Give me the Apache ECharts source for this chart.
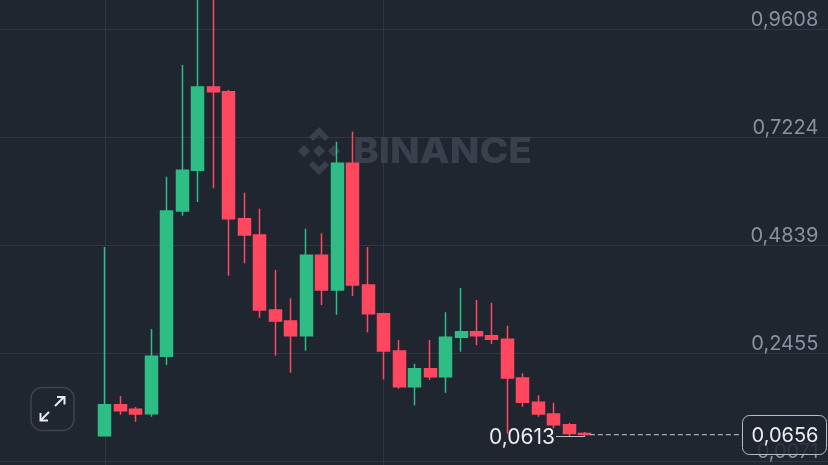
<!DOCTYPE html>
<html>
<head>
<meta charset="utf-8">
<style>
  html, body { margin: 0; padding: 0; background: #1f2630; }
  #main { width: 828px; height: 465px; }
</style>
<script src="https://cdn.jsdelivr.net/npm/echarts@6/dist/echarts.min.js"></script>
</head>
<body>
<div id="main"></div>
<script>
// candles
var opens = [0.0629, 0.1314, 0.1212, 0.1115, 0.2382, 0.5590, 0.6488, 0.8327, 0.8223, 0.5420, 0.5060, 0.3404, 0.3161, 0.2837, 0.4612, 0.3846,
  0.6642, 0.3956, 0.3323, 0.2499, 0.1711, 0.2108, 0.1932, 0.2802, 0.2925, 0.2837, 0.2757, 0.1903, 0.1367, 0.1108, 0.0872, 0.0682];
var closes = [0.1314, 0.1181, 0.1108, 0.2382, 0.5590, 0.6488, 0.8327, 0.8223, 0.5420, 0.5060, 0.3404, 0.3161, 0.2837, 0.4612, 0.3846, 0.6642,
  0.3956, 0.3323, 0.2499, 0.1711, 0.2108, 0.1932, 0.2802, 0.2925, 0.2837, 0.2757, 0.1903, 0.1367, 0.1108, 0.0872, 0.0682, 0.0656];
var lows = [0.0629, 0.1093, 0.0939, 0.1049, 0.2190, 0.5486, 0.5788, 0.6091, 0.4161, 0.4435, 0.3234, 0.2395, 0.2020, 0.2506, 0.3515, 0.3300,
  0.3713, 0.2912, 0.1874, 0.1667, 0.1301, 0.1859, 0.1579, 0.2484, 0.2625, 0.2654, 0.0682, 0.1270, 0.1049, 0.0793, 0.0625, 0.0613];
var highs = [0.4795, 0.1506, 0.1263, 0.2985, 0.6347, 0.8812, 1.0600, 1.0700, 0.8260, 0.5993, 0.5640, 0.4287, 0.3662, 0.5199, 0.5097, 0.7119,
  0.7340, 0.4795, 0.3345, 0.2742, 0.2219, 0.2742, 0.3353, 0.3890, 0.3625, 0.3565, 0.3058, 0.2007, 0.1521, 0.1358, 0.0916, 0.0711];

var yTicks = [0.0071, 0.2455, 0.4839, 0.7224, 0.9608];
var lastPrice = 0.0656;
var lowPrice = 0.0613;
var brand = 'BINANCE';

// empty slots left and right of the candles, the axis runs past the window
var padLeft = 7;
var padRight = 16;
var slots = [];
for (var s = 0; s < padLeft + opens.length + padRight; s++) slots.push(String(s));

var candles = opens.map(function (o, i) {
  return [i + padLeft, o, closes[i], lows[i], highs[i]];
});

function fmt(v) {
  return v.toFixed(4).replace('.', ',');
}

var font = 'Inter';
var chart = echarts.init(document.getElementById('main'));

chart.setOption({
  animation: false,
  backgroundColor: '#1f2630',
  grid: { left: -11.1, width: 851.4, top: 0, bottom: 0, outerBoundsMode: 'none' },
  xAxis: {
    type: 'category',
    data: slots,
    axisLine: { show: false },
    axisTick: { show: false },
    axisLabel: { show: false },
    splitLine: {
      show: true,
      alignWithLabel: true,
      interval: function (i) { return i === 7 || i === 25; },
      lineStyle: { color: '#2f3641', width: 1 }
    }
  },
  yAxis: {
    type: 'value',
    position: 'right',
    min: -0.0016,
    max: 1.0248,
    axisLine: { show: false },
    axisTick: { show: false, customValues: yTicks },
    axisLabel: {
      inside: true,
      customValues: yTicks,
      margin: 22,
      color: '#8a919e',
      fontFamily: font,
      fontSize: 20,
      verticalAlign: 'bottom',
      lineHeight: 18,
      formatter: fmt
    },
    splitLine: { show: true, lineStyle: { color: '#2f3641', width: 1 } }
  },
  series: [{
    type: 'candlestick',
    data: candles,
    encode: { x: 0, y: [1, 2, 3, 4] },
    barWidth: 12.5,
    itemStyle: {
      color: '#2ebd85',
      color0: '#ff4760',
      borderColor: '#2ebd85',
      borderColor0: '#ff4760',
      borderWidth: 1.5
    }
  }]
});

var lastY = chart.convertToPixel({ yAxisIndex: 0 }, lastPrice);
var lowY = chart.convertToPixel({ yAxisIndex: 0 }, lowPrice);
var lastX = chart.convertToPixel({ xAxisIndex: 0 }, padLeft + opens.length - 1);

chart.setOption({
  graphic: [
    // watermark
    { type: 'polygon', z: 1, shape: { points: [[319, 127], [329, 137], [325, 141], [319, 135], [313, 141], [309, 137]] }, style: { fill: '#3a404b' } },
    { type: 'polygon', z: 1, shape: { points: [[319, 175], [329, 165], [325, 161], [319, 167], [313, 161], [309, 165]] }, style: { fill: '#3a404b' } },
    { type: 'polygon', z: 1, shape: { points: [[319, 145], [325, 151], [319, 157], [313, 151]] }, style: { fill: '#3a404b' } },
    { type: 'polygon', z: 1, shape: { points: [[304, 145], [310, 151], [304, 157], [298, 151]] }, style: { fill: '#3a404b' } },
    { type: 'polygon', z: 1, shape: { points: [[334, 145], [340, 151], [334, 157], [328, 151]] }, style: { fill: '#3a404b' } },
    { type: 'text', z: 1, x: 353, y: 152, scaleX: 1.08, style: { text: brand, fill: '#3a404b', font: '800 36px Inter', textVerticalAlign: 'middle' } },

    // expand button
    { type: 'rect', z: 10, shape: { x: 31, y: 387.5, width: 43, height: 43, r: 11 }, style: { fill: 'rgba(31,38,48,0.6)', stroke: '#3d434e', lineWidth: 1.5 } },
    { type: 'polyline', z: 11, shape: { points: [[55, 406], [64, 397]] }, style: { stroke: '#eaecef', lineWidth: 2, fill: null } },
    { type: 'polyline', z: 11, shape: { points: [[57, 397], [64.5, 397], [64.5, 404.5]] }, style: { stroke: '#eaecef', lineWidth: 2, fill: null } },
    { type: 'polyline', z: 11, shape: { points: [[49, 412], [41, 420]] }, style: { stroke: '#eaecef', lineWidth: 2, fill: null } },
    { type: 'polyline', z: 11, shape: { points: [[40.5, 413], [40.5, 420.5], [48, 420.5]] }, style: { stroke: '#eaecef', lineWidth: 2, fill: null } },

    // low marker
    { type: 'line', z: 5, shape: { x1: 556, y1: lowY, x2: lastX, y2: lowY }, style: { stroke: '#b7bdc6', lineWidth: 1 } },
    { type: 'text', z: 6, x: 555, y: lowY + 1, style: { text: fmt(lowPrice), fill: '#eaecef', font: '21px ' + font, textAlign: 'right', textVerticalAlign: 'middle' } },

    // last price line and box
    { type: 'line', z: 5, shape: { x1: lastX + 5, y1: lastY, x2: 743, y2: lastY }, style: { stroke: '#a4a9b2', lineWidth: 1.2, lineDash: [5, 3] } },
    { type: 'rect', z: 6, shape: { x: 742.5, y: 415.5, width: 84, height: 39, r: 7 }, style: { fill: 'rgba(31,38,48,0.85)', stroke: '#b7bdc6', lineWidth: 1 } },
    { type: 'text', z: 7, x: 785, y: lastY + 1, style: { text: fmt(lastPrice), fill: '#eaecef', font: '20px ' + font, textAlign: 'center', textVerticalAlign: 'middle' } }
  ]
});
</script>
</body>
</html>
